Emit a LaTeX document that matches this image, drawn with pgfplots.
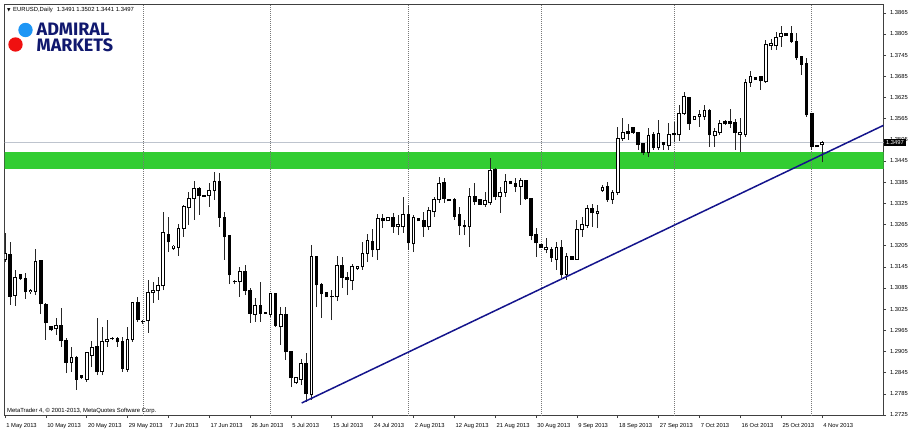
\documentclass[border=0pt]{standalone}
\usepackage{fontspec}
\setmainfont{Liberation Sans}
\newfontfamily\logofont{Fira Sans}
\newfontfamily\symfont{DejaVu Sans}
\usepackage{pgfplots}
\usepackage{pgfplotstable}
\pgfplotsset{compat=1.18}

\definecolor{bandgreen}{RGB}{50,205,50}
\definecolor{trendblue}{RGB}{20,20,140}
\definecolor{bidgray}{RGB}{190,196,206}
\definecolor{sepgray}{RGB}{120,120,120}
\definecolor{logonavy}{RGB}{16,24,110}
\definecolor{logoblue}{RGB}{30,150,245}
\definecolor{logored}{RGB}{240,16,16}

% EURUSD daily bars, i = bar number (0 = 1 May 2013, Sunday bars included)
\pgfplotstableread{
i o h l c
0 1.3167 1.3241 1.3159 1.3182
1 1.3179 1.3216 1.3037 1.3062
2 1.3065 1.3136 1.3034 1.3116
3 1.3122 1.3125 1.3108 1.3111
4 1.3113 1.3128 1.3054 1.3074
5 1.3074 1.3082 1.3068 1.3077
6 1.3074 1.3196 1.3065 1.3159
7 1.3162 1.3165 1.3011 1.3040
8 1.3037 1.3043 1.2938 1.2986
9 1.2975 1.2977 1.2963 1.2966
10 1.2969 1.3000 1.2952 1.2980
11 1.2980 1.3028 1.2918 1.2935
12 1.2935 1.2943 1.2844 1.2875
13 1.2875 1.2918 1.2847 1.2889
14 1.2889 1.2892 1.2796 1.2827
15 1.2838 1.2838 1.2827 1.2830
16 1.2827 1.2904 1.2819 1.2901
17 1.2895 1.2935 1.2861 1.2915
18 1.2918 1.3000 1.2838 1.2847
19 1.2847 1.2975 1.2838 1.2932
20 1.2932 1.2994 1.2918 1.2938
21 1.2941 1.2946 1.2938 1.2943
22 1.2943 1.2946 1.2918 1.2932
23 1.2932 1.2946 1.2847 1.2858
24 1.2855 1.2975 1.2847 1.2938
25 1.2938 1.3045 1.2932 1.3043
26 1.3045 1.3060 1.2989 1.2997
27 1.2989 1.2994 1.2983 1.2990
28 1.2992 1.3108 1.2958 1.3071
29 1.3071 1.3102 1.3043 1.3077
30 1.3077 1.3116 1.3051 1.3091
31 1.3091 1.3301 1.3079 1.3241
32 1.3238 1.3286 1.3187 1.3216
33 1.3196 1.3207 1.3193 1.3204
34 1.3201 1.3267 1.3176 1.3255
35 1.3255 1.3321 1.3230 1.3315
36 1.3312 1.3357 1.3264 1.3338
37 1.3338 1.3389 1.3278 1.3366
38 1.3366 1.3372 1.3292 1.3346
39 1.3348 1.3349 1.3343 1.3345
40 1.3346 1.3383 1.3315 1.3360
41 1.3360 1.3414 1.3335 1.3386
42 1.3386 1.3411 1.3258 1.3286
43 1.3286 1.3301 1.3165 1.3230
44 1.3233 1.3235 1.3096 1.3122
45 1.3102 1.3108 1.3096 1.3104
46 1.3102 1.3145 1.3060 1.3131
47 1.3131 1.3150 1.3065 1.3079
48 1.3079 1.3085 1.2986 1.3014
49 1.3011 1.3057 1.2989 1.3034
50 1.3034 1.3102 1.2989 1.3014
51 1.3016 1.3017 1.3011 1.3013
52 1.3011 1.3071 1.3003 1.3068
53 1.3068 1.3071 1.2975 1.2980
54 1.2975 1.3031 1.2924 1.3009
55 1.3009 1.3031 1.2881 1.2904
56 1.2904 1.2906 1.2804 1.2830
57 1.2816 1.2833 1.2813 1.2830
58 1.2827 1.2884 1.2810 1.2870
59 1.2870 1.2901 1.2762 1.2785
60 1.2782 1.3207 1.2768 1.3173
61 1.3173 1.3176 1.3031 1.3094
62 1.3096 1.3099 1.3000 1.3068
63 1.3071 1.3071 1.3060 1.3060
64 1.3060 1.3079 1.2994 1.3062
65 1.3060 1.3176 1.3048 1.3150
66 1.3150 1.3173 1.3085 1.3116
67 1.3116 1.3131 1.3065 1.3108
68 1.3105 1.3153 1.3079 1.3145
69 1.3139 1.3148 1.3136 1.3145
70 1.3145 1.3216 1.3136 1.3182
71 1.3184 1.3238 1.3159 1.3221
72 1.3218 1.3252 1.3173 1.3193
73 1.3193 1.3295 1.3165 1.3281
74 1.3281 1.3295 1.3255 1.3275
75 1.3275 1.3286 1.3275 1.3286
76 1.3286 1.3298 1.3241 1.3258
77 1.3258 1.3292 1.3235 1.3264
78 1.3258 1.3343 1.3241 1.3292
79 1.3292 1.3321 1.3193 1.3213
80 1.3210 1.3292 1.3187 1.3284
81 1.3281 1.3281 1.3275 1.3275
82 1.3275 1.3301 1.3230 1.3258
83 1.3258 1.3315 1.3250 1.3304
84 1.3301 1.3343 1.3286 1.3335
85 1.3335 1.3400 1.3326 1.3380
86 1.3383 1.3397 1.3326 1.3340
87 1.3335 1.3338 1.3332 1.3332
88 1.3335 1.3340 1.3278 1.3289
89 1.3292 1.3315 1.3235 1.3261
90 1.3261 1.3278 1.3235 1.3258
91 1.3258 1.3369 1.3201 1.3343
92 1.3343 1.3383 1.3321 1.3329
93 1.3335 1.3335 1.3323 1.3323
94 1.3323 1.3357 1.3315 1.3332
95 1.3326 1.3454 1.3321 1.3417
96 1.3420 1.3425 1.3335 1.3343
97 1.3343 1.3372 1.3298 1.3357
98 1.3357 1.3408 1.3343 1.3386
99 1.3386 1.3386 1.3380 1.3380
100 1.3380 1.3397 1.3357 1.3374
101 1.3374 1.3397 1.3321 1.3389
102 1.3389 1.3391 1.3335 1.3340
103 1.3340 1.3340 1.3221 1.3235
104 1.3238 1.3255 1.3173 1.3213
105 1.3207 1.3207 1.3201 1.3201
106 1.3193 1.3227 1.3184 1.3201
107 1.3193 1.3201 1.3159 1.3170
108 1.3167 1.3216 1.3136 1.3201
109 1.3201 1.3221 1.3113 1.3122
110 1.3122 1.3184 1.3108 1.3173
111 1.3173 1.3173 1.3167 1.3167
112 1.3167 1.3278 1.3165 1.3250
113 1.3250 1.3286 1.3230 1.3264
114 1.3261 1.3321 1.3255 1.3309
115 1.3309 1.3323 1.3258 1.3298
116 1.3295 1.3321 1.3255 1.3301
117 1.3360 1.3377 1.3357 1.3369
118 1.3372 1.3386 1.3329 1.3335
119 1.3335 1.3363 1.3323 1.3357
120 1.3357 1.3542 1.3349 1.3508
121 1.3508 1.3567 1.3502 1.3525
122 1.3528 1.3550 1.3505 1.3522
123 1.3539 1.3542 1.3522 1.3525
124 1.3525 1.3528 1.3477 1.3491
125 1.3494 1.3496 1.3462 1.3468
126 1.3468 1.3539 1.3457 1.3516
127 1.3519 1.3528 1.3477 1.3482
128 1.3482 1.3562 1.3477 1.3522
129 1.3496 1.3499 1.3477 1.3491
130 1.3488 1.3553 1.3477 1.3519
131 1.3522 1.3556 1.3499 1.3519
132 1.3519 1.3604 1.3502 1.3579
133 1.3579 1.3641 1.3576 1.3627
134 1.3624 1.3627 1.3533 1.3550
135 1.3562 1.3570 1.3562 1.3570
136 1.3570 1.3590 1.3542 1.3576
137 1.3570 1.3604 1.3562 1.3587
138 1.3587 1.3593 1.3485 1.3519
139 1.3516 1.3539 1.3485 1.3528
140 1.3525 1.3562 1.3519 1.3550
141 1.3556 1.3562 1.3547 1.3550
142 1.3556 1.3593 1.3539 1.3550
143 1.3553 1.3564 1.3477 1.3525
144 1.3519 1.3567 1.3471 1.3525
145 1.3519 1.3678 1.3513 1.3667
146 1.3667 1.3701 1.3655 1.3684
147 1.3681 1.3681 1.3675 1.3675
148 1.3684 1.3686 1.3647 1.3672
149 1.3669 1.3788 1.3667 1.3774
150 1.3771 1.3791 1.3760 1.3777
151 1.3771 1.3811 1.3760 1.3794
152 1.3797 1.3828 1.3769 1.3805
153 1.3805 1.3805 1.3800 1.3800
154 1.3805 1.3828 1.3780 1.3783
155 1.3783 1.3808 1.3732 1.3737
156 1.3740 1.3740 1.3689 1.3718
157 1.3720 1.3737 1.3570 1.3576
158 1.3579 1.3581 1.3477 1.3485
159 1.3488 1.3488 1.3485 1.3485
160 1.3491 1.3502 1.3441 1.3497
}\ohlc

\newcommand{\tickfont}{\fontsize{5.8}{6}\selectfont}

\begin{document}
\begin{tikzpicture}[x=1pt,y=1pt]
\useasboundingbox[fill=white] (0,0) rectangle (924,440);
\begin{axis}[
    at={(4.5pt,24.3pt)}, anchor=south west,
    scale only axis, width=879pt, height=411.4pt,
    xmin=-0.1, xmax=172.05,
    ymin=1.2723, ymax=1.38891,
    clip mode=individual,
    axis line style={black!75, line width=0.6pt},
    tick style={black!75, line width=0.6pt},
    tick align=outside, major tick length=2.5pt,
    xtick pos=bottom, ytick pos=right, yticklabel pos=right,
    xtick={0,8,...,160},
    xticklabels={1 May 2013, 10 May 2013, 20 May 2013, 29 May 2013, 7 Jun 2013,
        17 Jun 2013, 26 Jun 2013, 5 Jul 2013, 15 Jul 2013, 24 Jul 2013, 2 Aug 2013,
        12 Aug 2013, 21 Aug 2013, 30 Aug 2013, 9 Sep 2013, 18 Sep 2013, 27 Sep 2013,
        7 Oct 2013, 16 Oct 2013, 25 Oct 2013, 4 Nov 2013},
    ytick={1.2725,1.2785,1.2845,1.2905,1.2965,1.3025,1.3085,1.3145,1.3205,1.3265,
        1.3325,1.3385,1.3445,1.3505,1.3565,1.3625,1.3685,1.3745,1.3805,1.3865},
    scaled y ticks=false,
    /pgf/number format/assume math mode=true,
    yticklabel style={font=\tickfont, anchor=west, inner sep=0pt, xshift=3.8pt,
        /pgf/number format/fixed, /pgf/number format/fixed zerofill,
        /pgf/number format/precision=4},
    xticklabel style={font=\tickfont, anchor=base west, inner sep=0pt,
        xshift=1.2pt, yshift=-9pt},
]

% support zone
\addplot[draw=none, fill=bandgreen] coordinates
    {(-1,1.3423) (174,1.3423) (174,1.3471) (-1,1.3471)};

% month separators
\pgfplotsinvokeforeach{27,52,79,105,131,158}{
    \addplot[sepgray, line width=0.7pt, dash pattern=on 1pt off 1pt]
        coordinates {(#1,1.27) (#1,1.39)};
}

% bid line
\addplot[bidgray, line width=0.9pt] coordinates {(-1,1.3497) (174,1.3497)};

% wicks
\addplot[draw=none, mark=none,
    error bars/.cd, y dir=plus, y explicit, error mark=none,
    error bar style={draw=black!85, line width=0.8pt}]
    table[x=i, y=l, y error plus expr={\thisrow{h}-\thisrow{l}}] {\ohlc};

% bodies: black block for every candle ...
\addplot[draw=none, mark=none,
    error bars/.cd, y dir=plus, y explicit, error mark=none,
    error bar style={draw=black, line width=3.6pt}]
    table[x=i, y expr={min(\thisrow{o},\thisrow{c})-0.00014},
        y error plus expr={abs(\thisrow{c}-\thisrow{o})+0.00028}] {\ohlc};

% ... hollowed out where the close is above the open
\addplot[draw=none, mark=none,
    error bars/.cd, y dir=plus, y explicit, error mark=none,
    error bar style={draw=white, line width=1.6pt}]
    table[x=i, y expr={\thisrow{o}+0.00014},
        y error plus expr={max(\thisrow{c}-\thisrow{o}-0.00028,0)}] {\ohlc};

% trend line
\addplot[trendblue, line width=1.5pt] coordinates {(58.1,1.2759) (172.05,1.3546)};

\node[fill=black, text=white, font=\tickfont, inner xsep=2.4pt, inner ysep=1.2pt,
    anchor=west] at (axis cs:172.05,1.3497) {1.3497};
\end{axis}

% header, footer and logo
\node[anchor=base west, inner sep=0pt, font=\fontsize{5.9}{6}\selectfont] at (7,428.3)
    {{\symfont\fontsize{4.5}{5}\selectfont ▼}\hspace{2.5pt}EURUSD,Daily\hspace{4pt}1.3491 1.3502 1.3441 1.3497};
\node[anchor=base west, inner sep=0pt, font=\fontsize{5.9}{6}\selectfont] at (7,27.5)
    {MetaTrader 4, © 2001-2013, MetaQuotes Software Corp.};
\fill[logoblue] (25.5,410) circle (7.2);
\fill[logored] (15.5,395.5) circle (7.2);
\node[anchor=north west, inner sep=0pt, text=logonavy, align=left,
    font=\logofont\bfseries\fontsize{18}{16}\selectfont] at (36.5,416.8)
    {ADMIRAL\\MARKETS};
\end{tikzpicture}
\end{document}
